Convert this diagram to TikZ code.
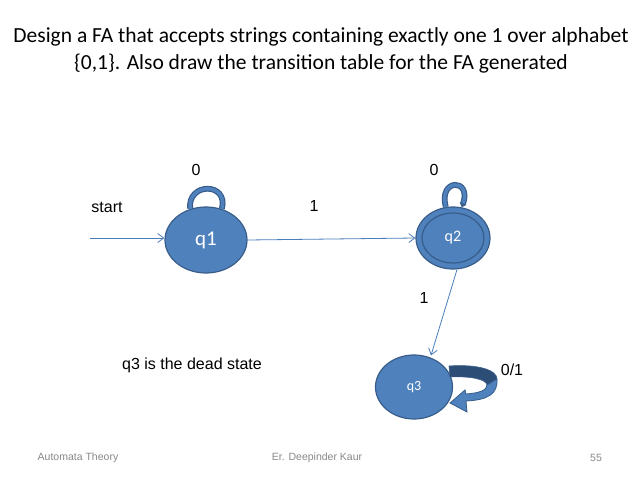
\documentclass[tikz,border=0pt]{standalone}
\usepackage{fontspec}
\setmainfont{Liberation Sans}
\newfontfamily\calib{Carlito}
\usetikzlibrary{shapes.geometric,arrows.meta,calc}
\definecolor{sfill}{HTML}{4F81BD}
\definecolor{sline}{HTML}{385D8A}
\definecolor{aline}{HTML}{4A7EBB}
\definecolor{sdark}{HTML}{2C4D75}
\definecolor{foot}{HTML}{898989}
\tikzset{
  state/.style={ellipse,fill=sfill,draw=sline,line width=1.2pt,text=white,inner sep=0pt},
  lbl/.style={font=\fontsize{16}{19}\selectfont,text=black,inner sep=0pt},
  conn/.style={draw=aline,line width=0.8pt,-{Straight Barb[length=6pt,width=9pt,line width=0.8pt]}},
  loopline/.style={draw=sline,double=sfill,double distance=3.4pt,line width=1.2pt},
  footer/.style={font=\fontsize{10.5}{12}\selectfont,text=foot,inner sep=0pt}
}
\begin{document}
\begin{tikzpicture}[x=1pt,y=-1pt]
\useasboundingbox[fill=white] (0,0) rectangle (638,479);
\node[font=\calib\fontsize{21.5}{27}\selectfont,align=center,inner sep=0pt] (title) at (321,50)
  {Design a FA that accepts strings containing exactly one 1 over alphabet\\
   \{0,1\}. Also draw the transition table for the FA generated};
% states
\node[state,minimum width=82pt,minimum height=66pt,font=\calib\fontsize{21}{24}\selectfont] (q1) at (206,240) {q1};
\node[state,minimum width=74pt,minimum height=62pt] (q2) at (453,238) {};
\node[ellipse,draw=sline,line width=1.2pt,minimum width=62pt,minimum height=50pt,text=white,font=\calib\fontsize{16}{19}\selectfont] (q2in) at (q2) {q2};
\node[state,minimum width=77pt,minimum height=64pt,font=\calib\fontsize{14}{16}\selectfont] (q3) at (414,387) {q3};
% start arrow
\coordinate (s0) at (90,238);
\draw[conn] (s0) -- (q1.west |- s0);
\node[lbl] (start) at (107,207) {start};
% transitions
\draw[conn] (q1.east) -- (q2.west);
\node[lbl] (l12) at (314,206) {1};
\draw[conn] ($(q2.south)+(4,0)$) -- ($(q3.north)+(17,1)$);
\node[lbl] (l23) at (424,298) {1};
% loops
\draw[loopline] (q1.117) .. controls (187,182) and (229,182) .. (q1.63);
\node[lbl] (l11) at (196,170) {0};
\draw[loopline,-{Triangle[length=4pt,width=7pt]}] (q2.103) .. controls (438,178) and (472,178) .. (q2.74);
\node[lbl] (l22) at (434,170) {0};
% q3 self loop (3D curved arrow)
\filldraw[fill=sdark,draw=sline,line width=0.6pt]
  (449,366) .. controls (478,364) and (497,370) .. (497,379)
  -- (487,385) .. controls (486,379) and (470,376) .. (450,377) -- cycle;
\filldraw[fill=sfill,draw=sline,line width=0.8pt]
  (497,379) .. controls (498,394) and (488,400) .. (466,401)
  -- (467,412) -- (450,403) -- (465,390) -- (466,394)
  .. controls (480,393) and (487,390) .. (487,385) -- cycle;
\node[lbl] (l33) at (512,370) {0/1};
\node[lbl] (dead) at (192,365) {q3 is the dead state};
% footer
\node[footer] (f1) at (78,458) {Automata Theory};
\node[footer] (f2) at (317,458) {Er. Deepinder Kaur};
\node[footer] (f3) at (596,458) {55};
\end{tikzpicture}
\end{document}
